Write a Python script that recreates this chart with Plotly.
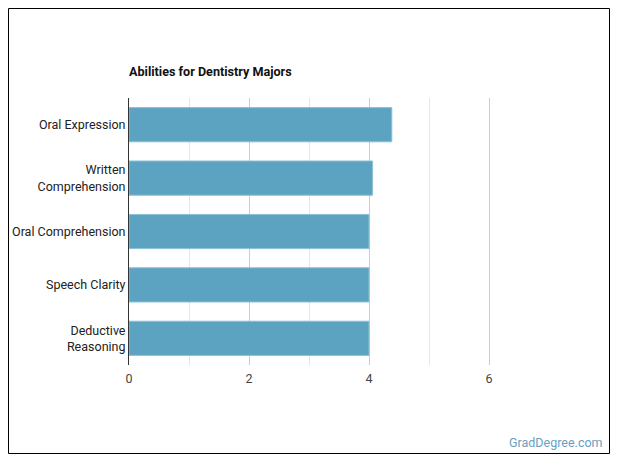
import plotly.graph_objects as go

categories = ["Oral Expression", "Written<br>Comprehension", "Oral Comprehension",
              "Speech Clarity", "Deductive<br>Reasoning"]
values = [4.38, 4.06, 4.0, 4.0, 4.0]
x_tick_vals = [0, 2, 4, 6]
x_tick_text = ["0", "2", "4", "6"]

# page has an 8px body margin; figure coordinates are page coords minus 8
OFF = 8
W, H = 604, 449
L, T = 129 - OFF, 98 - OFF
pw, ph = 420, 267
R, B = W - L - pw, H - T - ph

def px(x):
    return (x - OFF - L) / pw

def py(y):
    return (H - B - (y - OFF)) / ph

fig = go.Figure(go.Bar(
    x=values, y=categories, orientation="h",
    marker=dict(color="#5ba3c0", line=dict(color="#8cc0d6", width=1)),
    width=0.64,
))

fig.update_layout(
    width=W, height=H,
    margin=dict(l=L, r=R, t=T, b=B, autoexpand=False),
    paper_bgcolor="white", plot_bgcolor="white",
    font=dict(family="Roboto", size=12.5, color="#333333"),
    showlegend=False,
    title=dict(text="<b>Abilities for Dentistry Majors</b>", x=px(129), xanchor="left",
               y=1 - (72 - OFF) / H, yanchor="middle", xref="paper",
               font=dict(family="Roboto", size=12.6, color="#111111")),
    xaxis=dict(range=[0, 7], tickvals=x_tick_vals, ticktext=x_tick_text,
               showgrid=True, gridcolor="#cccccc", gridwidth=1,
               minor=dict(dtick=1, showgrid=True, gridcolor="#e6e6e6", gridwidth=1),
               zeroline=False, showline=False, ticks="", automargin=False,
               ticklabelstandoff=4,
               tickfont=dict(size=12.5, color="#444444")),
    yaxis=dict(autorange="reversed", showline=True, linecolor="#333333", linewidth=1,
               ticks="", automargin=False, ticklabelstandoff=0,
               tickfont=dict(size=12.5, color="#222222"),
               showgrid=False),
    shapes=[dict(type="rect", xref="paper", yref="paper",
                 x0=px(8.5), x1=px(609.5), y0=py(453.5), y1=py(8.5),
                 line=dict(color="#000000", width=1), fillcolor="rgba(0,0,0,0)",
                 layer="below")],
    annotations=[dict(text="GradDegree.com", xref="paper", yref="paper",
                      x=px(605), y=py(442), xanchor="right", yanchor="middle",
                      showarrow=False, font=dict(family="Roboto", size=12.5, color="#6a9fbf"))],
)

fig.write_html("out.html")
